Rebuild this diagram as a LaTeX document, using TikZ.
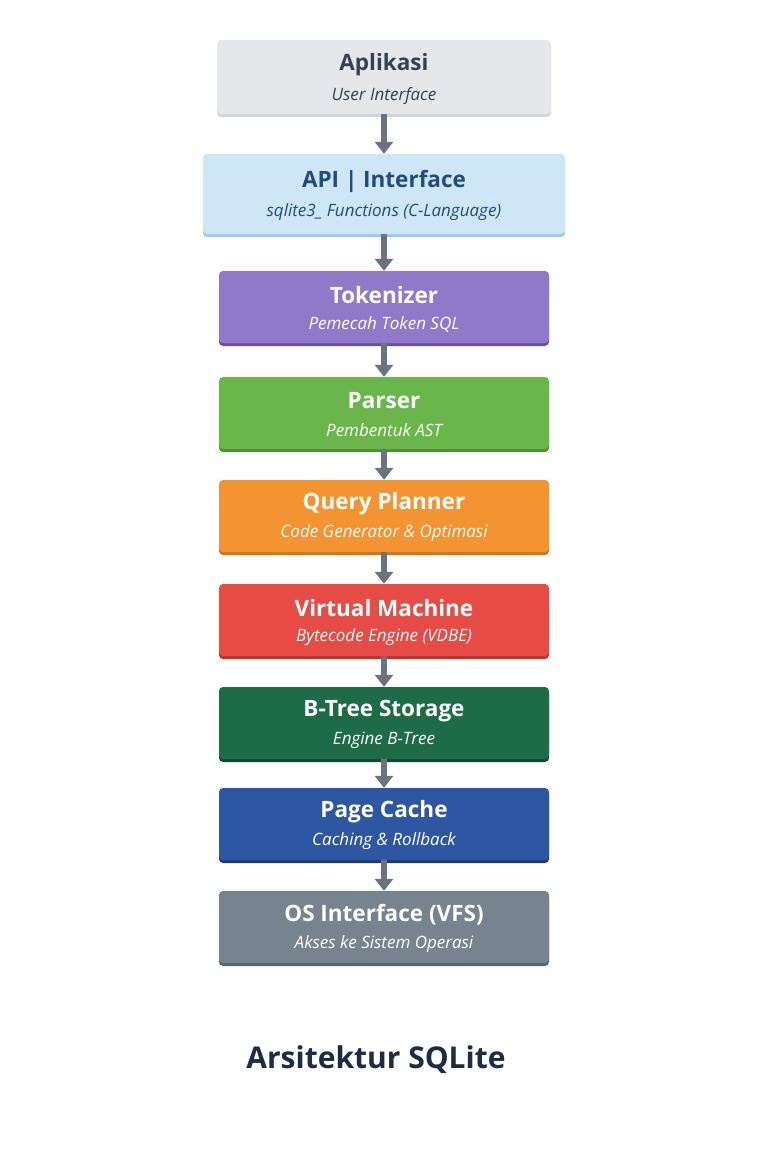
\documentclass[tikz,border=0pt]{standalone}
\usepackage{fontspec}
\setmainfont{Open Sans}
\usetikzlibrary{arrows.meta}
\definecolor{cApp}{HTML}{E5E7EB}\definecolor{cAppD}{HTML}{D1D5DB}
\definecolor{cApi}{HTML}{CFE6F7}\definecolor{cApiD}{HTML}{9CC8EC}
\definecolor{cTok}{HTML}{9278C8}\definecolor{cTokD}{HTML}{6A4FA8}
\definecolor{cPar}{HTML}{6AB64A}\definecolor{cParD}{HTML}{4A9230}
\definecolor{cQry}{HTML}{F39332}\definecolor{cQryD}{HTML}{D1741C}
\definecolor{cVm}{HTML}{E64C45}\definecolor{cVmD}{HTML}{C1302B}
\definecolor{cBt}{HTML}{1E6B48}\definecolor{cBtD}{HTML}{124A30}
\definecolor{cPc}{HTML}{2E57A3}\definecolor{cPcD}{HTML}{1B3A78}
\definecolor{cOs}{HTML}{788390}\definecolor{cOsD}{HTML}{59636F}
\definecolor{cArr}{HTML}{6B7280}
\definecolor{cTxt}{HTML}{374151}
\definecolor{cApiT}{HTML}{1E4E7E}
\definecolor{cTitle}{HTML}{1F2A44}
\begin{document}
\begin{tikzpicture}[x=1pt,y=-1pt]
    % gaya
    \tikzset{
        layer/.style={rounded corners=4pt,minimum width=330pt,minimum height=72pt,
            inner sep=0pt,align=center,text=white},
        alur/.style={draw=cArr,line width=6pt,-{Triangle[width=18pt,length=12pt]}},
        judulkotak/.style={font=\bfseries\fontsize{22.5}{26}\selectfont},
        subkotak/.style={font=\itshape\fontsize{17}{20}\selectfont}
    }
    \useasboundingbox (0,0) rectangle (768,1152);

    % bayangan bawah lalu kotak
    \newcommand{\lapisan}[7]{%
        \fill[#4,rounded corners=4pt] (#1-#6/2,#2-#7/2+3) rectangle (#1+#6/2,#2+#7/2+3);
        \node[layer,fill=#3,minimum width=#6pt,minimum height=#7pt] (#5) at (#1,#2) {};
    }
    \lapisan{384}{77}{cApp}{cAppD}{app}{334}{74}
    \lapisan{384}{194}{cApi}{cApiD}{api}{362}{80}
    \lapisan{384}{307}{cTok}{cTokD}{tok}{330}{72}
    \lapisan{384}{413}{cPar}{cParD}{par}{330}{72}
    \lapisan{384}{516}{cQry}{cQryD}{qry}{330}{72}
    \lapisan{384}{620}{cVm}{cVmD}{vm}{330}{72}
    \lapisan{384}{723}{cBt}{cBtD}{bt}{330}{72}
    \lapisan{384}{824}{cPc}{cPcD}{pc}{330}{72}
    \lapisan{384}{927}{cOs}{cOsD}{os}{330}{72}

    % teks
    \node[text=cTxt,judulkotak] at (384,65) {Aplikasi};
    \node[text=cTxt,subkotak] at (384,96) {User Interface};
    \node[text=cApiT,judulkotak] at (384,181) {API | Interface};
    \node[text=cApiT,subkotak] at (384,212) {sqlite3\_ Functions (C-Language)};
    \foreach \nm/\yy/\ja/\sub in {tok/307/Tokenizer/Pemecah Token SQL,
        par/413/Parser/Pembentuk AST,
        qry/516/Query Planner/Code Generator \& Optimasi,
        vm/620/Virtual Machine/Bytecode Engine (VDBE),
        bt/723/B-Tree Storage/Engine B-Tree,
        pc/824/Page Cache/Caching \& Rollback,
        os/927/OS Interface (VFS)/Akses ke Sistem Operasi}{
        \node[text=white,judulkotak] at (384,\yy-12) {\ja};
        \node[text=white,subkotak] at (384,\yy+17) {\sub};
    }

    % panah
    \draw[alur] (app.south) -- (api.north);
    \draw[alur] (api.south) -- (tok.north);
    \draw[alur] (tok.south) -- (par.north);
    \draw[alur] (par.south) -- (qry.north);
    \draw[alur] (qry.south) -- (vm.north);
    \draw[alur] (vm.south) -- (bt.north);
    \draw[alur] (bt.south) -- (pc.north);
    \draw[alur] (pc.south) -- (os.north);

    % judul
    \node[text=cTitle,font=\bfseries\fontsize{30}{36}\selectfont] (judul) at (376,1060) {Arsitektur SQLite};
\end{tikzpicture}
\end{document}
